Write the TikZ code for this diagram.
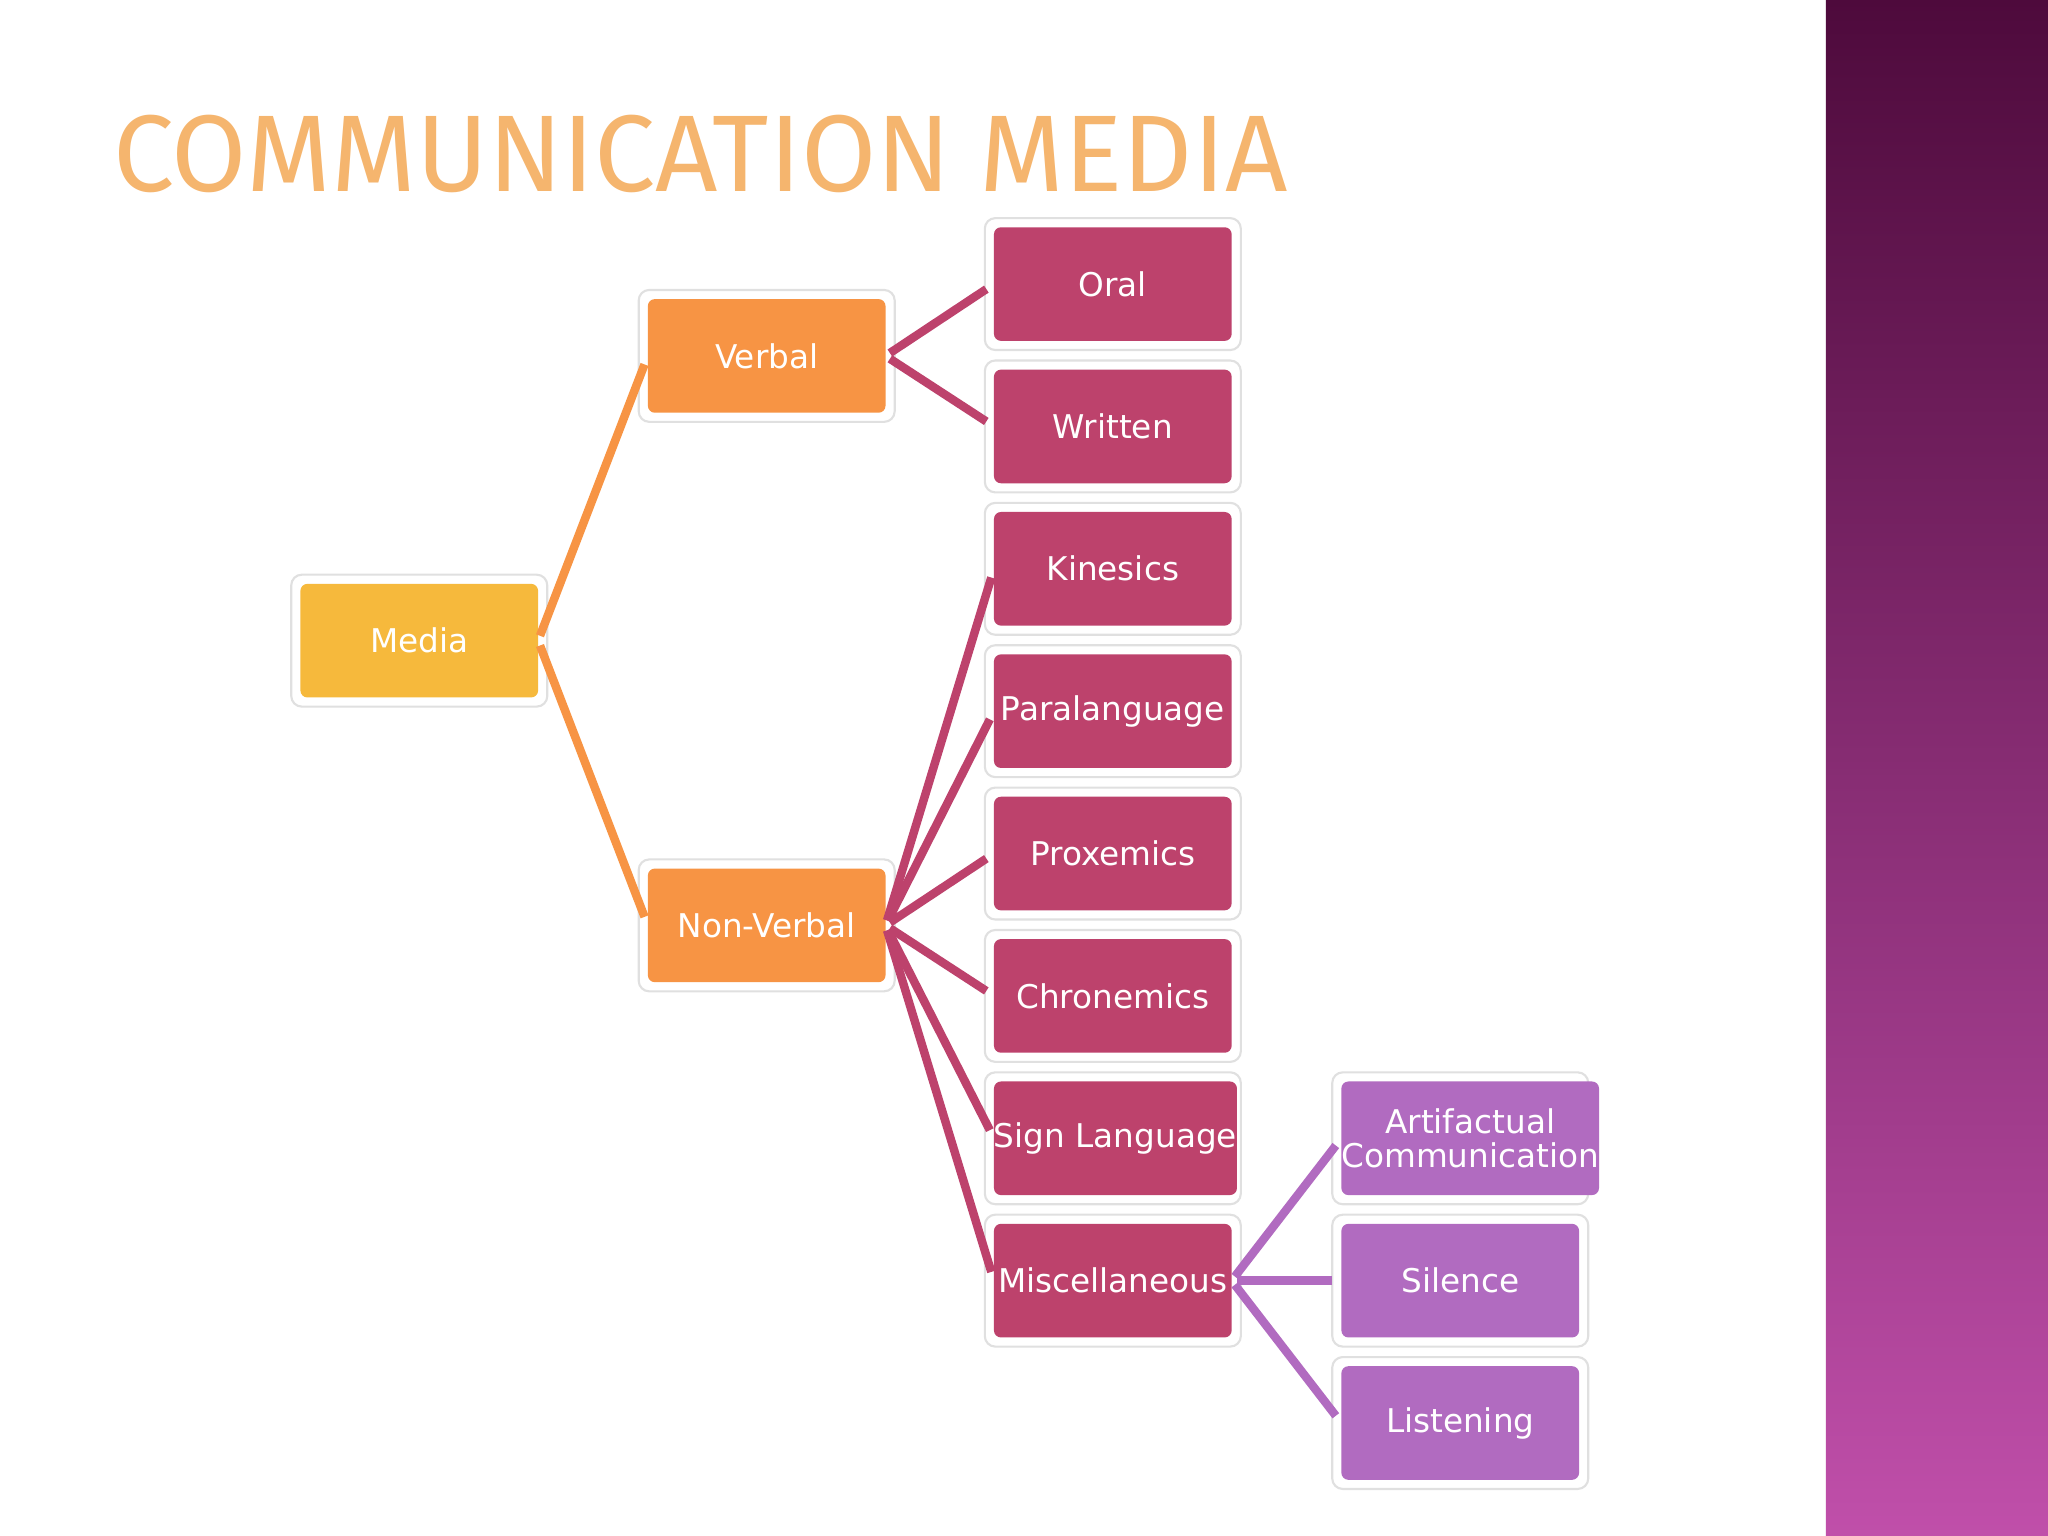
\documentclass[tikz,border=0pt]{standalone}
\usepackage{fontspec}
\setmainfont{DejaVu Sans}
\newfontfamily\titlefont{Fira Sans}
\begin{document}
\begin{tikzpicture}[x=0.013061cm,y=-0.013061cm,
  box/.style={minimum width=182*0.013061cm,minimum height=87*0.013061cm,inner sep=0,text=white,font=\fontsize{9.3}{10.5}\selectfont,align=center,outer sep=0},
  frame/.style={draw=black!12,fill=white,rounded corners=3pt,line width=0.6pt},
  org/.style={line width=2.4pt,draw=orgc},
  crm/.style={line width=2.4pt,draw=crmc},
  pur/.style={line width=2.4pt,draw=purc}]
\definecolor{yelc}{HTML}{F6B93C}
\definecolor{orgc}{HTML}{F79444}
\definecolor{crmc}{HTML}{BD426C}
\definecolor{purc}{HTML}{B16BC0}
\definecolor{pdark}{HTML}{4E0A3C}
\definecolor{plight}{HTML}{C04FAA}
\definecolor{titc}{HTML}{F5B56E}
\useasboundingbox (0,0) rectangle (1568,1176);
\fill[white] (0,0) rectangle (1568,1176);
\shade[top color=pdark,bottom color=plight] (1398,0) rectangle (1568,1176);
\node[anchor=west,font=\titlefont\fontsize{31}{33}\selectfont,text=titc,inner sep=0] (title) at (86,118) {COMMUNICATION MEDIA};
\newcommand{\bx}[5]{%
  \fill[frame,draw=black!12] (#1-7,#2-7) rectangle (#1+189,#2+94);
  \node[box,fill=#4,rounded corners=2pt,anchor=north west] (#3) at (#1,#2) {#5};}
\bx{230}{447}{media}{yelc}{Media}
\bx{496}{229}{verbal}{orgc}{Verbal}
\bx{496}{665}{nonverbal}{orgc}{Non-Verbal}
\bx{761}{174}{oral}{crmc}{Oral}
\bx{761}{283}{written}{crmc}{Written}
\bx{761}{392}{kin}{crmc}{Kinesics}
\bx{761}{501}{para}{crmc}{Paralanguage}
\bx{761}{610}{prox}{crmc}{Proxemics}
\bx{761}{719}{chron}{crmc}{Chronemics}
\bx{761}{828}{sign}{crmc}{Sign Language}
\bx{761}{937}{misc}{crmc}{Miscellaneous}
\bx{1027}{828}{art}{purc}{Artifactual\\[-1pt]Communication}
\bx{1027}{937}{sil}{purc}{Silence}
\bx{1027}{1046}{lis}{purc}{Listening}
\begin{scope}[shorten <=4*0.013061cm,shorten >=7*0.013061cm]
\draw[org] (media.east) -- (verbal.west);
\draw[org] (media.east) -- (nonverbal.west);
\foreach \t in {oral,written} \draw[crm] (verbal.east) -- (\t.west);
\foreach \t in {kin,para,prox,chron,sign,misc} \draw[crm] (nonverbal.east) -- (\t.west);
\foreach \t in {art,sil,lis} \draw[pur] (misc.east) -- (\t.west);
\end{scope}
\end{tikzpicture}
\end{document}
